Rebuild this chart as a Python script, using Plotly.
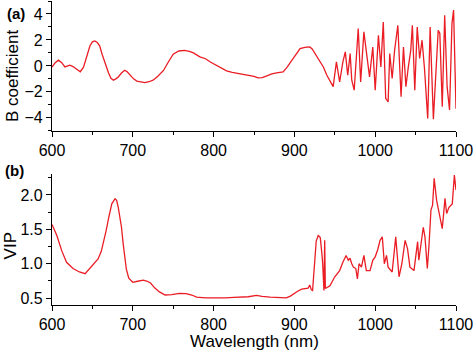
import plotly.graph_objects as go

# ---- Data ----
wl_b = [600, 604, 608, 612, 616, 619, 622, 626, 630, 635, 639, 643, 647, 650, 653, 656, 659, 662,
        666, 670, 673, 676, 679, 682, 686, 690, 693, 697, 701, 705, 710, 715, 720, 725, 731, 738,
        744, 750, 757, 764, 770, 775, 783, 790, 796, 803, 810, 816, 823, 831, 838, 845, 850, 855,
        860, 866, 872, 878, 883, 886, 891, 897, 902, 907, 913, 919, 922, 925, 928, 932, 936, 940,
        944, 948, 952, 956, 960, 963, 966, 969, 971, 974, 979, 982, 986, 989, 993, 997, 1000,
        1004, 1007, 1010, 1013, 1016, 1018, 1021, 1024, 1028, 1032, 1035, 1038, 1041, 1044,
        1046, 1049, 1052, 1055, 1058, 1061, 1065, 1068, 1072, 1075, 1078, 1080, 1083, 1086,
        1089, 1092, 1095, 1097, 1100]
b_coef = [-0.1, 0.25, 0.44, 0.25, -0.08, 0.0, 0.05, -0.05, -0.2, -0.45, -0.1, 0.7, 1.55, 1.85,
          1.92, 1.8, 1.55, 0.9, 0.15, -0.55, -0.95, -1.1, -1.0, -0.85, -0.55, -0.33, -0.45, -0.75,
          -1.0, -1.17, -1.25, -1.28, -1.22, -1.1, -0.8, -0.35, 0.3, 0.9, 1.15, 1.2, 1.12, 1.0, 0.7,
          0.55, 0.3, 0.05, -0.2, -0.38, -0.5, -0.58, -0.68, -0.77, -0.8, -0.92, -0.9, -0.77, -0.62,
          -0.54, -0.5, -0.46, -0.1, 0.44, 0.9, 1.34, 1.42, 1.46, 1.3, 1.0, 0.8, 0.4, -0.1, -0.7,
          -1.1, -1.6, 0.31, -1.23, 0.31, 1.08, -0.72, 0.95, -1.1, -1.87, 2.88, -1.23, 2.62, 1.2,
          -0.85, 1.46, -1.87, 2.36, -0.08, 3.38, -2.5, -2.77, 0.95, -0.97, 1.2, 3.13, -2.38, 1.46,
          -1.6, -0.08, 1.2, 3.13, -1.87, 3.0, 0.57, 1.98, -0.2, -4.05, 3.0, -4.1, -0.08, 2.75, 2.5,
          -3.15, 3.9, -1.6, -3.4, 3.26, 4.3, -3.3]

wl_v = [600, 606, 612, 618, 626, 634, 641, 647, 652, 657, 661, 664, 667, 670, 674, 678, 680, 682,
        684, 686, 688, 690, 692, 695, 700, 706, 713, 718, 722, 727, 733, 740, 748, 758, 766, 773,
        779, 790, 803, 815, 825, 833, 843, 853, 860, 870, 880, 890, 895, 899, 904, 909, 914, 917,
        919, 921, 922.5, 925, 927, 929.5, 932, 934, 935, 936.6, 937.5, 938.3, 941, 944, 950, 956,
        960, 964, 966.7, 968.8, 971, 973, 976, 978, 980, 983, 986, 989, 993.6, 997, 1000, 1003,
        1006, 1008.8, 1011.3, 1014, 1016, 1018, 1021, 1025.4, 1029.5, 1033, 1037, 1040, 1043,
        1048, 1052.5, 1054, 1059.5, 1061.6, 1064.5, 1066.6, 1069, 1071, 1073, 1076, 1080, 1083,
        1086.4, 1088.4, 1091.3, 1095.4, 1098, 1100]
vip = [1.57, 1.41, 1.19, 1.02, 0.93, 0.88, 0.855, 0.93, 1.0, 1.07, 1.18, 1.32, 1.48, 1.66, 1.87,
       1.945, 1.92, 1.82, 1.68, 1.53, 1.3, 1.10, 0.92, 0.79, 0.73, 0.745, 0.76, 0.745, 0.72, 0.65,
       0.59, 0.545, 0.55, 0.57, 0.565, 0.545, 0.515, 0.505, 0.50, 0.505, 0.51, 0.515, 0.52, 0.54,
       0.525, 0.515, 0.51, 0.505, 0.53, 0.565, 0.6, 0.63, 0.64, 0.645, 0.69, 0.62, 0.61, 1.10,
       1.33, 1.41, 1.38, 1.15, 1.0, 0.61, 1.34, 0.64, 0.66, 0.68, 0.81, 0.90, 1.02, 1.12, 1.05,
       1.08, 1.0, 0.95, 0.93, 0.78, 1.0, 0.95, 1.12, 0.90, 0.90, 1.05, 1.1, 1.2, 1.34, 1.39, 1.0,
       1.12, 0.95, 0.92, 0.88, 1.39, 0.81, 1.0, 1.34, 1.22, 0.95, 0.90, 1.32, 1.05, 1.53, 1.39,
       0.93, 1.27, 1.78, 1.85, 2.24, 1.92, 1.66, 1.51, 1.95, 1.73, 1.82, 1.87, 2.29, 2.07]

x_ticks = [600, 700, 800, 900, 1000, 1100]

RED = "#ea1c24"
FONT = "Arial, Liberation Sans, sans-serif"

fig = go.Figure()
fig.add_trace(go.Scatter(x=wl_b, y=b_coef, mode="lines", line=dict(color=RED, width=1.3),
                         xaxis="x", yaxis="y", showlegend=False))
fig.add_trace(go.Scatter(x=wl_v, y=vip, mode="lines", line=dict(color=RED, width=1.3),
                         xaxis="x2", yaxis="y2", showlegend=False))

axis_common = dict(showline=True, linecolor="black", linewidth=1.3, ticks="outside",
                   ticklen=5, tickwidth=1.2, tickcolor="black", showgrid=False, zeroline=False,
                   tickfont=dict(family=FONT, size=16, color="black"), mirror=False)

xax = dict(axis_common, range=[600, 1100], tickvals=x_ticks,
           minor=dict(ticks="outside", ticklen=3, tickwidth=1.1, tickcolor="black", dtick=50,
                      tick0=600, showgrid=False))

fig.update_layout(
    width=474, height=351,
    margin=dict(l=52, r=18, t=1, b=46),
    plot_bgcolor="white", paper_bgcolor="white",
    xaxis=dict(xax, domain=[0, 1], anchor="y"),
    yaxis=dict(axis_common, domain=[0.573, 1.0], range=[-5, 5], tickvals=[-4, -2, 0, 2, 4],
               ticktext=["\u22124", "\u22122", "0", "2", "4"], anchor="x",
               minor=dict(ticks="outside", ticklen=3, tickwidth=1.1, tickcolor="black",
                          dtick=1, tick0=0, showgrid=False)),
    xaxis2=dict(xax, domain=[0, 1], anchor="y2"),
    yaxis2=dict(axis_common, domain=[0, 0.430], range=[0.4, 2.3],
                tickvals=[0.5, 1.0, 1.5, 2.0], ticktext=["0.5", "1.0", "1.5", "2.0"],
                anchor="x2",
                minor=dict(ticks="outside", ticklen=3, tickwidth=1.1, tickcolor="black",
                           dtick=0.25, tick0=0.5, showgrid=False)),
    annotations=[
        dict(text="<b>(a)</b>", x=-0.09, y=0.96, xref="paper", yref="paper", showarrow=False,
             font=dict(family=FONT, size=15, color="black"), xanchor="center", yanchor="middle"),
        dict(text="<b>(b)</b>", x=-0.094, y=0.443, xref="paper", yref="paper", showarrow=False,
             font=dict(family=FONT, size=15, color="black"), xanchor="center", yanchor="middle"),
        dict(text="B coefficient", x=-0.099, y=0.753, xref="paper", yref="paper",
             showarrow=False, textangle=-90, font=dict(family=FONT, size=17, color="black"),
             xanchor="center", yanchor="middle"),
        dict(text="VIP", x=-0.104, y=0.196, xref="paper", yref="paper",
             showarrow=False, textangle=-90, font=dict(family=FONT, size=17, color="black"),
             xanchor="center", yanchor="middle"),
        dict(text="Wavelength (nm)", x=0.5, y=-0.12, xref="paper", yref="paper",
             showarrow=False, font=dict(family=FONT, size=17, color="black"),
             xanchor="center", yanchor="middle"),
    ],
)

fig.write_html("out.html")
